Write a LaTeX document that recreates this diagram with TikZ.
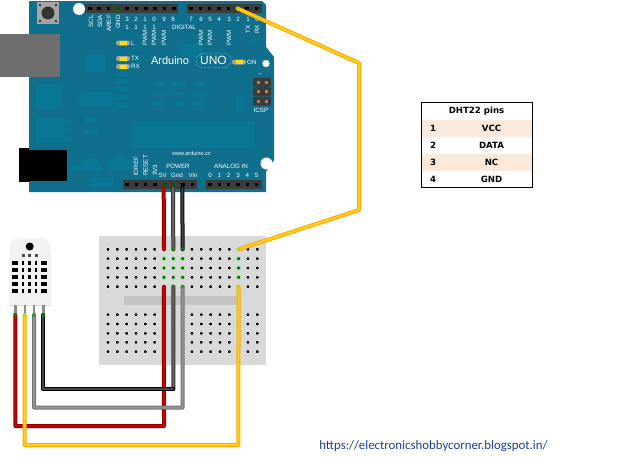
\documentclass[tikz,border=0pt]{standalone}
\usepackage{fontspec}
\setmainfont{Liberation Sans}
\newfontfamily\tablefont{DejaVu Sans}
\newfontfamily\linkfont{Carlito}
\usetikzlibrary{arrows}

\definecolor{boardblue}{HTML}{0F6F8C}
\definecolor{boarddark}{HTML}{0B7796}
\definecolor{headergray}{HTML}{3C3C3C}
\definecolor{breadgray}{HTML}{D9D9D9}
\definecolor{peach}{HTML}{FBE9DC}
\definecolor{linkblue}{HTML}{1C3F9C}

\tikzset{
	silk/.style = {text=white,inner sep=0pt,font=\fontsize{6.2}{7}\selectfont},
	silkup/.style = {silk,rotate=90,anchor=east},
	patch/.style = {fill=boarddark,draw=none},
	pinhole/.style = {fill=black,draw=none,minimum size=3.6pt,inner sep=0pt,shape=rectangle},
	breadhole/.style = {fill=black,draw=white!90!black,line width=0.8pt,shape=circle,minimum size=4pt,inner sep=0pt},
	greenhole/.style = {fill=green!40!black,draw=green!30!breadgray,line width=0.8pt,shape=circle,minimum size=4pt,inner sep=0pt},
	pinend/.style = {fill=green!60!black,opacity=0.6,draw=none},
	ledpill/.style = {fill=gray!70,draw=none,rounded corners=2.5pt,minimum width=14pt,minimum height=5pt,inner sep=0pt},
	wire/.style = {line width=1pt,double distance=2pt,line join=round,line cap=round},
	wirered/.style = {wire,draw=red!55!black,double=red!80!black},
	wireblack/.style = {wire,draw=black,double=black!72},
	wiredark/.style = {wire,draw=black!80,double=black!60},
	wiregray/.style = {wire,draw=black!55,double=black!42},
	wireyellow/.style = {wire,draw=orange!70!yellow,double=yellow!65!orange!90!white},
	cell/.style = {minimum width=111pt,minimum height=17pt,inner sep=0pt,shape=rectangle},
	celltext/.style = {inner sep=0pt,font=\tablefont\bfseries\fontsize{8.6}{10}\selectfont}
}

\begin{document}
\begin{tikzpicture}[x=1pt,y=-1pt]
	\useasboundingbox (0,0) rectangle (640,466);
	% board
	\fill[boardblue] (29,1) -- (262,1) -- (266,5) -- (266,47) -- (274,57) -- (274,160) -- (266,172) -- (266,192) -- (29,192) -- cycle;
	\fill[patch] (131,121) rectangle (255,148);
	\fill[patch] (36,84) rectangle (62,109);
	\fill[patch] (86,55) rectangle (105,72);
	\fill[patch] (181,44) rectangle (202,57);
	\fill[patch,rounded corners=6pt] (79,92) rectangle (115,107);
	\fill[patch] (36,117) rectangle (65,143);
	\fill[patch,rounded corners=2pt] (65,120) rectangle (73,125);
	\fill[patch,rounded corners=2pt] (65,128) rectangle (73,133);
	\fill[patch,rounded corners=2pt] (65,136) rectangle (73,141);
	\fill[patch,rounded corners=2pt] (85,118) rectangle (98,123);
	\fill[patch,rounded corners=2pt] (85,129) rectangle (98,134);
	\fill[patch] (90,177) rectangle (113,187);
	\fill[patch] (236,95) rectangle (243,113);
	\fill[patch] (69,170) arc (180:360:5) -- cycle;
	\fill[patch] (77,171) arc (180:360:13) -- cycle;
	\fill[patch] (107,170) arc (180:360:13) -- cycle;
	\foreach \y in {72,79,87,95,103}{\fill[patch,rounded corners=2pt] (116,\y) rectangle (129,\y+5);}
	\foreach \x in {153,173,193}{\foreach \y in {82,92,102}{\fill[patch,rounded corners=2pt] (\x,\y) rectangle (\x+13,\y+4);}}
	\fill[patch] (254,42) circle (4);
	% mounting holes
	\fill[white] (79,9) circle (6);
	\fill[white] (266,63.5) circle (3.7);
	\fill[white] (266.5,163.5) circle (6);
	% usb, jack and button
	\fill[black!57] (0,34) rectangle (60,77);
	\fill[black] (19,148) rectangle (29,182);
	\fill[black] (29,150) rectangle (67,181);
	\fill[black!35] (37,2) rectangle (59,24);
	\fill[black!80] (48,13) circle (6.5);
	\foreach \x/\y in {40/5,56/5,40/21,56/21}{\fill[black!75] (\x,\y) circle (1.5);}
	% headers
	\fill[headergray] (85,4) rectangle (178,13);
	\fill[headergray] (187,4) rectangle (262,13);
	\fill[headergray] (123,180) rectangle (197,189);
	\fill[headergray] (206,180) rectangle (262,189);
	\foreach \i in {0,...,9}{\node[pinhole] (dg\i) at (89.8+9.33*\i,8.5) {};}
	\foreach \i in {0,...,7}{\node[pinhole] (de\i) at (191+9.33*\i,8.5) {};}
	\foreach \i in {0,...,7}{\node[pinhole] (pw\i) at (127+9.33*\i,184.5) {};}
	\foreach \i in {0,...,5}{\node[pinhole] (an\i) at (210+9.33*\i,184.5) {};}
	\fill[pinend] (dg3.south west) rectangle (dg3.north east);
	% icsp
	\foreach \y in {82,91.5,101}{
		\fill[headergray,rounded corners=2pt] (253,\y-4.5) rectangle (271,\y+4.5);
		\fill[brown!70!gray] (256.5,\y-1.5) rectangle (259.5,\y+1.5);
		\fill[brown!70!gray] (265,\y-1.5) rectangle (268,\y+1.5);
	}
	% leds
	\foreach \n/\x/\y in {ledl/123/43,ledtx/123/58.5,ledrx/123/66.5,ledon/239/62}{
		\node[ledpill] (\n) at (\x,\y) {};
		\fill[yellow!80!orange] (\x-3.5,\y-2) rectangle (\x+3.5,\y+2);
	}
	% silk screen
	\node[silk,anchor=west] (ltxt) at (131,43) {L};
	\node[silk,anchor=west] (txtxt) at (131,58.5) {TX};
	\node[silk,anchor=west] (rxtxt) at (131,66.5) {RX};
	\node[silk,anchor=west] (ontxt) at (247,62.5) {ON};
	\node[silk,font=\fontsize{11}{12}\selectfont] (ardtxt) at (170,61) {Arduino};
	\node[silk,font=\fontsize{12}{13}\selectfont,draw=white,densely dotted,rounded corners=6.5pt,minimum width=35pt,minimum height=14pt] (uno) at (213.5,60.5) {UNO};
	\node[silk] (icsp) at (261,110.5) {ICSP};
	\node[silk,rotate=90,font=\fontsize{4}{5}\selectfont] (icspone) at (260,74) {1};
	\node[silk,font=\fontsize{5.5}{6}\selectfont] (web) at (191.5,153.5) {www.arduino.cc};
	\node[silk] (power) at (178,166) {POWER};
	\node[silk] (analog) at (231,166) {ANALOG IN};
	\node[silk] (digital) at (184,27) {DIGITAL};
	\foreach \n/\x in {SCL/91,SDA/100,AREF/109,GND/118}{\node[silkup] (top\n) at (\x,15) {\n};}
	\foreach \n/\x in {3/127,2/136,1/145,0/154,9/164,8/173}{\node[silk] (dig\x) at (\x,19) {\n};}
	\foreach \x in {127,136,145,154}{\node[silk] (one\x) at (\x,27) {1};}
	\foreach \n/\x in {7/191,6/201,5/210,4/219,3/229,2/238,1/248,0/257}{\node[silk] (dig\x) at (\x,19) {\n};}
	\foreach \n/\x in {TX/248,RX/257}{\node[silkup] (top\n) at (\x,25) {\n};}
	\foreach \x in {145,154,164,201,210,229}{\node[silkup] (pwm\x) at (\x,30) {PWM};}
	\foreach \n/\x in {IOREF/136,RESET/145.5,3V3/155}{\node[silk,rotate=90,anchor=west] (low\n) at (\x,176) {\n};}
	\foreach \n/\x in {5V/163,Gnd/177,Vin/193}{\node[silk] (low\n) at (\x,175) {\n};}
	\foreach \n in {0,...,5}{\node[silk] (ana\n) at (210+9.33*\n,175) {\n};}
	% breadboard
	\fill[breadgray] (99,236) rectangle (266,365);
	\fill[black!10!breadgray] (124,296) rectangle (237,305);
	\foreach \c in {0,...,16}{
		\foreach \r/\y in {a/249.3,b/258.7,c/268,d/277.3,e/286.7,f/314.7,g/324,h/333.3,i/342.3,j/351.7}{
			\node[breadhole] (\r\c) at (108+9.33*\c,\y) {};
		}
	}
	\foreach \c in {6,7,8,14}{
		\foreach \r in {b,c,d}{\node[greenhole] at (\r\c) {};}
	}
	% sensor
	\fill[black!5,rounded corners=8pt] (10,238) rectangle (50,262);
	\fill[black!5] (9,251) rectangle (50.5,305);
	\draw[black!12] (9,305.5) -- (50.5,305.5);
	\fill[black] (29.7,246.5) circle (4);
	\foreach \x in {23,29.5,36}{\fill[black!70] (\x-1.5,254) rectangle (\x+1.5,257);}
	\foreach \y in {263,270,277,284,291}{
		\fill[black] (12,\y-1.6) rectangle (18,\y+1.6);
		\fill[black] (41,\y-1.6) rectangle (47,\y+1.6);
		\foreach \x in {23,29.5,36}{\fill[black] (\x-1.4,\y-1.6) rectangle (\x+1.4,\y+1.6);}
	}
	\foreach \n/\x in {s1/15.3,s2/24.7,s3/34,s4/43.3}{
		\fill[black!45] (\x-1.2,305) rectangle (\x+1.2,314);
		\coordinate (\n) at (\x,315);
	}
	% wires
	\coordinate (cred) at (15.3,426);
	\coordinate (credb) at (164,426);
	\coordinate (cblk) at (43.3,389);
	\coordinate (cblkb) at (173.3,389);
	\coordinate (cgry) at (34,407.5);
	\coordinate (cgryb) at (182.7,407.5);
	\coordinate (cyel) at (24.7,445);
	\coordinate (cyelb) at (238.3,445);
	\coordinate (cbenda) at (359,210);
	\coordinate (cbendb) at (359,63);
	\coordinate (pfive) at (163.7,188);
	\coordinate (pgnda) at (173,188);
	\coordinate (pgndb) at (182.3,188);
	\draw[wirered] (pfive) -- (a6.center);
	\draw[wiredark] (pgnda) -- (a7.center);
	\draw[wireblack] (pgndb) -- (a8.center);
	\draw[wirered] (e6.center) -- (credb) -- (cred) -- (s1);
	\draw[wiredark] (e7.center) -- (cblkb);
	\draw[wireblack] (cblkb) -- (cblk) -- (s4);
	\draw[wiregray] (e8.center) -- (cgryb) -- (cgry) -- (s3);
	\draw[wireyellow] (e14.center) -- (cyelb) -- (cyel) -- (s2);
	\draw[wireyellow] (a14.center) -- (cbenda) -- (cbendb) -- (de5.center);
	\foreach \p in {a7,a8,e7,e8,s1,s3,s4,pw4,pw5}{\fill[pinend] (\p) circle (2);}
	\fill[yellow!70!green] (a14) circle (2);
	\fill[yellow!70!green] (e14) circle (2);
	\fill[yellow!70!green] (s2) circle (2);
	\fill[yellow!70!green] (de5) circle (2);
	% pin table
	\node[cell] (rowhead) at (476.5,111) {};
	\node[cell,fill=peach] (rowa) at (476.5,128) {};
	\node[cell] (rowb) at (476.5,145) {};
	\node[cell,fill=peach] (rowc) at (476.5,162) {};
	\node[cell] (rowd) at (476.5,179) {};
	\node[cell,draw=black,line width=1pt,minimum height=85pt] (pintable) at (476.5,145) {};
	\node[celltext] (headtxt) at (rowhead) {DHT22 pins};
	\foreach \r/\n/\t in {rowa/1/VCC,rowb/2/DATA,rowc/3/NC,rowd/4/GND}{
		\node[celltext] (\r num) at ([xshift=-43.5pt]\r.center) {\n};
		\node[celltext] (\r name) at ([xshift=15pt]\r.center) {\t};
	}
	% link
	\node[text=linkblue,inner sep=0pt,font=\linkfont\fontsize{12.85}{14}\selectfont] (link) at (433.5,446) {https://electronicshobbycorner.blogspot.in/};
\end{tikzpicture}
\end{document}
